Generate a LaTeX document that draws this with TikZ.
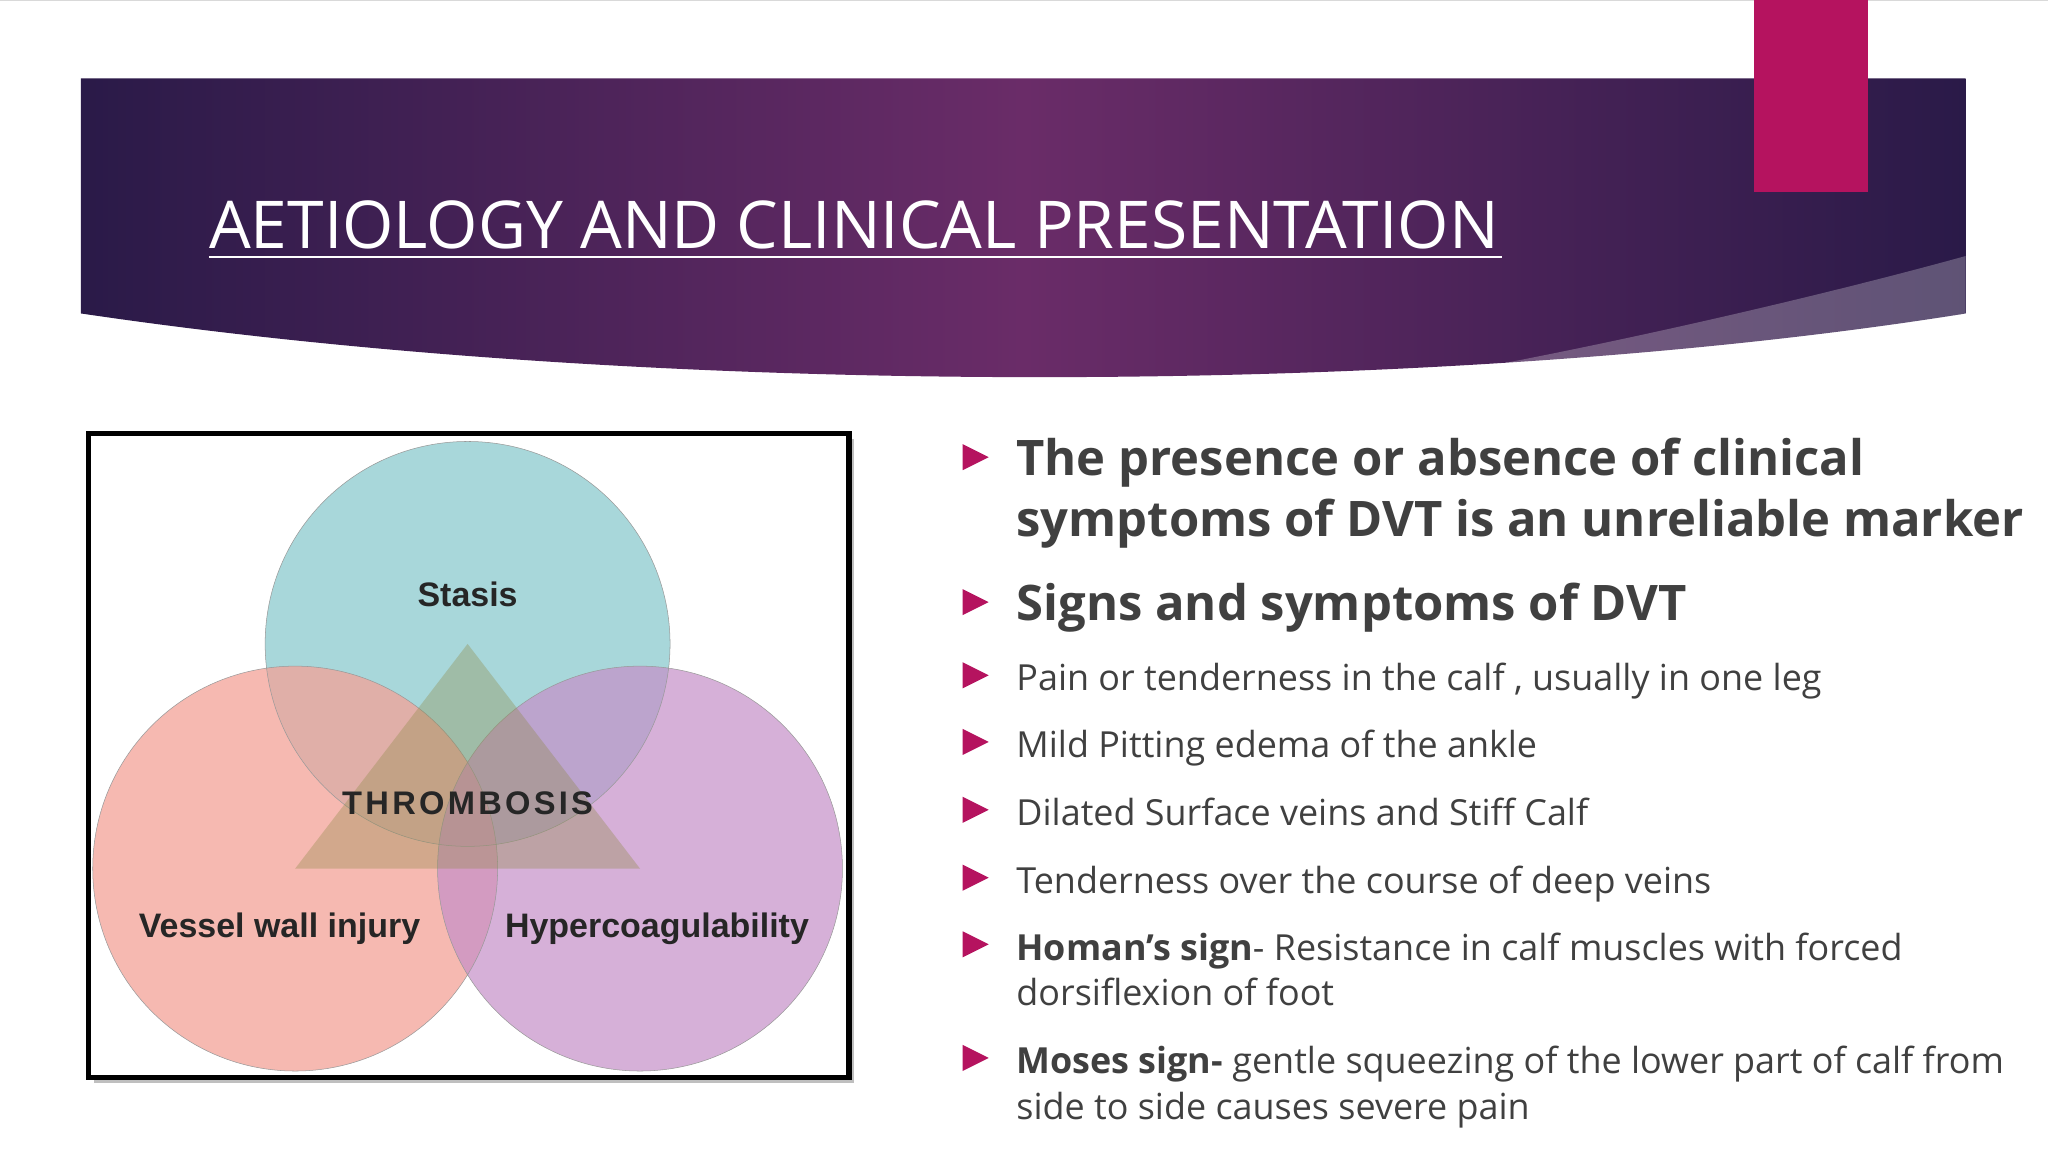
\documentclass[tikz,border=0pt]{standalone}
\usepackage{fontspec}
\setmainfont{Open Sans}
\newfontfamily\arialb{Liberation Sans}
\usetikzlibrary{shadings}
\definecolor{pinkk}{HTML}{B5135F}
\definecolor{txt}{HTML}{404040}
\definecolor{bandL}{HTML}{2A1A48}
\definecolor{bandC}{HTML}{6A2C68}
\definecolor{cteal}{HTML}{9FD3D6}
\definecolor{csal}{HTML}{F4A298}
\definecolor{cpur}{HTML}{C58FC8}
\tikzset{
 big/.style={anchor=base west,text=txt,font=\bfseries\fontsize{37.5}{40}\selectfont,inner sep=0},
 sm/.style={anchor=base west,text=txt,font=\fontsize{27.5}{34}\selectfont,inner sep=0},
 vlab/.style={font=\arialb\bfseries\fontsize{26}{28}\selectfont,text=black!85}}
\newcommand{\bulat}[1]{\fill[pinkk] (737,#1-22) -- (757,#1-12) -- (737,#1-2) -- cycle;}
\begin{document}
\begin{tikzpicture}[x=1pt,y=-1pt]
\useasboundingbox (0,0) rectangle (1568,882);
\fill[white] (0,0) rectangle (1568,882);
\draw[black!15] (0,0.5) -- (1568,0.5);
% banner
\shade[left color=bandL,right color=bandL,middle color=bandC] (62,60) -- (1505,60) -- (1505,240) .. controls (1100,305) and (500,305) .. (62,240) -- cycle;
\fill[white,opacity=0.25] (1505,196) .. controls (1400,225) and (1250,260) .. (1120,284) .. controls (1300,270) and (1420,255) .. (1505,240) -- cycle;
\fill[pinkk] (1343,0) rectangle (1430,147);
\node[anchor=base west,text=white,inner sep=0,font=\fontsize{50.5}{60}\selectfont] (title) at (160,190) {AETIOLOGY AND CLINICAL PRESENTATION};
\draw[white,line width=1.5] (160,197) -- (1150,197);
% venn box
\fill[black!25] (72,336) rectangle (654,829);
\draw[line width=4,fill=white] (68,332) rectangle (650,825);
\fill[cteal,fill opacity=0.9] (358,493) circle (155);
\fill[csal,fill opacity=0.75] (226,665) circle (155);
\fill[cpur,fill opacity=0.7] (490,665) circle (155);
\draw[black!40] (358,493) circle (155) (226,665) circle (155) (490,665) circle (155);
\fill[olive!50!gray,fill opacity=0.35] (358,493) -- (490,665) -- (226,665) -- cycle;
\node[vlab] (s) at (358,455) {Stasis};
\node[vlab,font=\arialb\bfseries\fontsize{25}{26}\selectfont\addfontfeature{LetterSpace=10}] (t) at (358,615) {THROMBOSIS};
\node[vlab] (v) at (214,711) {Vessel wall injury};
\node[vlab] (h) at (503,711) {Hypercoagulability};
% bullets
\bulat{362}\bulat{473}\bulat{529}\bulat{580}\bulat{632}\bulat{684}\bulat{735}\bulat{822}
\node[big] (b1) at (778,364) {The presence or absence of clinical};
\node[big] (b1b) at (778,411) {symptoms of DVT is an unreliable marker};
\node[big] (b2) at (778,475) {Signs and symptoms of DVT};
\node[sm] (c1) at (778,529) {Pain or tenderness in the calf , usually in one leg};
\node[sm] (c2) at (778,580) {Mild Pitting edema of the ankle};
\node[sm] (c3) at (778,632) {Dilated Surface veins and Stiff Calf};
\node[sm] (c4) at (778,684) {Tenderness over the course of deep veins};
\node[sm] (c5) at (778,735) {\textbf{Homan’s sign}- Resistance in calf muscles with forced};
\node[sm] (c5b) at (778,770) {dorsiflexion of foot};
\node[sm] (c6) at (778,822) {\textbf{Moses sign-} gentle squeezing of the lower part of calf from};
\node[sm] (c6b) at (778,857) {side to side causes severe pain};
\end{tikzpicture}
\end{document}
